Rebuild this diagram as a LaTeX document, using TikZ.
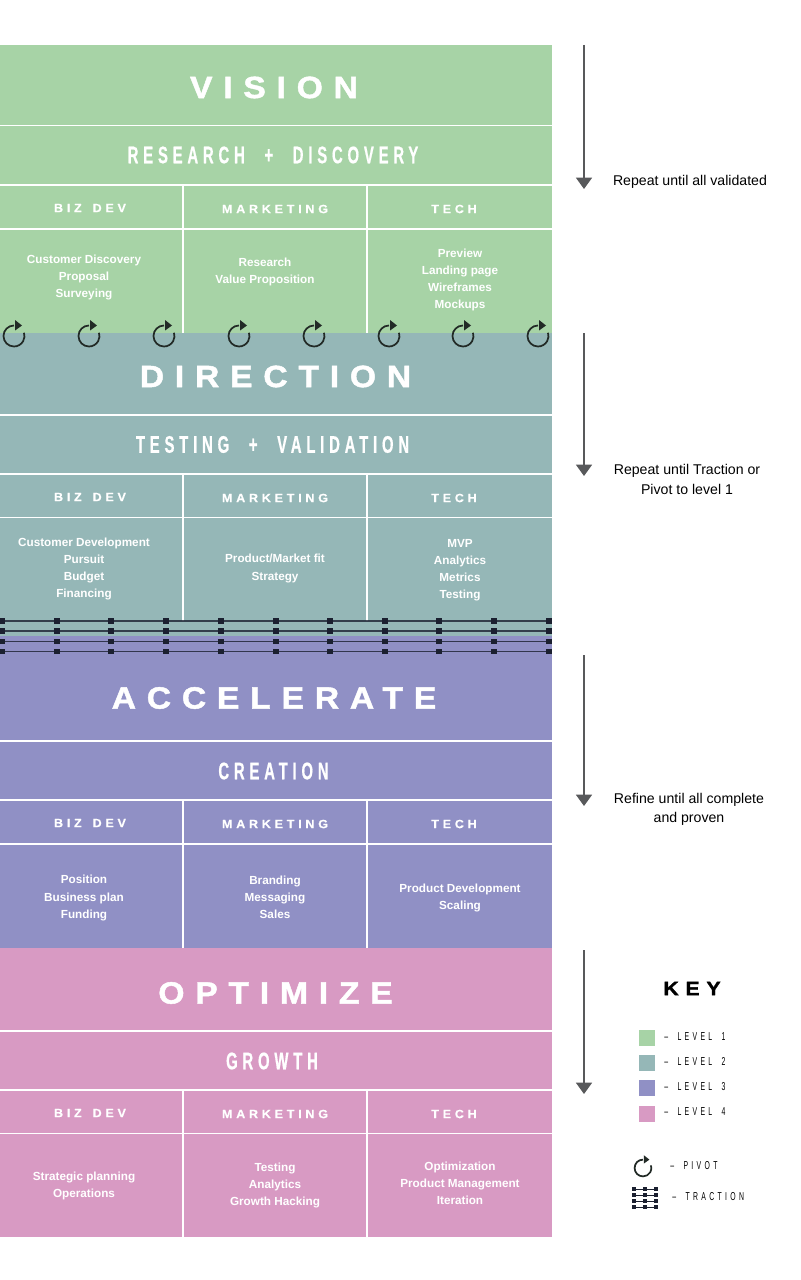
\documentclass[tikz,border=0pt]{standalone}
\usepackage{fontspec}
\setmainfont{Liberation Sans}
\newfontfamily\titlefont[LetterSpace=35,FakeStretch=1.1,FakeBold=1.5]{Liberation Sans Bold}
\newfontfamily\subfont[LetterSpace=20,FakeStretch=0.62,WordSpace=2.2,FakeBold=0.6]{Liberation Sans Bold}
\newfontfamily\teamfont[LetterSpace=31,FakeStretch=1.05,WordSpace=1.5,FakeBold=0.4]{Liberation Sans Bold}
\newfontfamily\keyfont[LetterSpace=29,FakeStretch=0.6,WordSpace=1.8]{Liberation Sans}
\definecolor{levelone}{RGB}{167,211,166}
\definecolor{leveltwo}{RGB}{149,183,183}
\definecolor{levelthree}{RGB}{144,144,197}
\definecolor{levelfour}{RGB}{216,154,195}
\definecolor{pivotink}{RGB}{34,42,38}
\definecolor{tractionink}{RGB}{27,32,48}
\definecolor{arrowink}{RGB}{88,89,91}
\usetikzlibrary{arrows.meta}
\tikzset{
  titletext/.style={text=white,inner sep=0pt,font=\titlefont\fontsize{23}{23}\selectfont},
  subtext/.style={text=white,inner sep=0pt,font=\subfont\fontsize{18}{18}\selectfont},
  teamtext/.style={text=white,inner sep=0pt,font=\teamfont\fontsize{9}{9}\selectfont},
  bodytext/.style={text=white,inner sep=0pt,align=center,font=\bfseries\fontsize{8.8}{12.8}\selectfont},
  notetext/.style={text=black,inner sep=0pt,align=center,font=\fontsize{10.6}{14.4}\selectfont},
  keytext/.style={text=black,inner sep=0pt,anchor=west,font=\keyfont\fontsize{8.6}{8.6}\selectfont},
  divider/.style={draw=white,line width=1pt},
  repeatline/.style={draw=arrowink,line width=1.1pt,-{Triangle[length=8.5pt,width=12pt]}},
  tractiondot/.style={fill=tractionink,inner sep=0pt,minimum size=3.8pt},
  tractionline/.style={draw=tractionink,draw opacity=0.8,line width=1.15pt},
  swatch/.style={inner sep=0pt,minimum size=12pt},
  pics/pivot/.style={code={
    \begin{scope}[scale=#1]
    \draw [color=pivotink,line width=1.3pt] (0,10.5) arc [start angle=90,end angle=378,radius=10.5];
    \fill [pivotink] (1,16) -- (8,10.5) -- (1,5.5) -- cycle;
    \end{scope}
  }},
}
\begin{document}
\begin{tikzpicture}[x=0.75pt,y=0.75pt,yscale=-1,xscale=1]
\useasboundingbox (0,0) rectangle (800,1280);

% Level bands
\fill [levelone] (0,45) rectangle (552,333);
\fill [leveltwo] (0,333) rectangle (552,636);
\fill [levelthree] (0,636) rectangle (552,948);
\fill [levelfour] (0,948) rectangle (552,1237);

% Dividers level 1
\draw [divider] (0,125.5) -- (552,125.5);
\draw [divider] (0,185) -- (552,185);
\draw [divider] (0,229) -- (552,229);
\draw [divider] (183,185) -- (183,333);
\draw [divider] (367,185) -- (367,333);
% Dividers level 2
\draw [divider] (0,415) -- (552,415);
\draw [divider] (0,474) -- (552,474);
\draw [divider] (0,517.5) -- (552,517.5);
\draw [divider] (183,474) -- (183,621);
\draw [divider] (367,474) -- (367,621);
% Dividers level 3
\draw [divider] (0,741) -- (552,741);
\draw [divider] (0,800) -- (552,800);
\draw [divider] (0,844) -- (552,844);
\draw [divider] (183,800) -- (183,948);
\draw [divider] (367,800) -- (367,948);
% Dividers level 4
\draw [divider] (0,1031) -- (552,1031);
\draw [divider] (0,1090) -- (552,1090);
\draw [divider] (0,1133.5) -- (552,1133.5);
\draw [divider] (183,1090) -- (183,1237);
\draw [divider] (367,1090) -- (367,1237);

% Text Node
\node (vision) at (274,87.5) [titletext] {VISION};
% Text Node
\node (research) at (273,155) [subtext] {RESEARCH + DISCOVERY};
% Text Node
\node (bizone) at (90,208) [teamtext] {BIZ DEV};
% Text Node
\node (mktone) at (275,209) [teamtext] {MARKETING};
% Text Node
\node (techone) at (454,209) [teamtext] {TECH};
% Text Node
\node (bodyonea) at (84,277.5) [bodytext] {Customer Discovery\\Proposal\\Surveying};
% Text Node
\node (bodyoneb) at (265,272) [bodytext] {Research\\Value Proposition};
% Text Node
\node (bodyonec) at (460,280) [bodytext] {Preview\\Landing page\\Wireframes\\Mockups};

% Text Node
\node (direction) at (275.5,376.5) [titletext] {DIRECTION};
% Text Node
\node (testing) at (272.5,444.5) [subtext] {TESTING + VALIDATION};
% Text Node
\node (biztwo) at (90,497) [teamtext] {BIZ DEV};
% Text Node
\node (mkttwo) at (275,498) [teamtext] {MARKETING};
% Text Node
\node (techtwo) at (454,498) [teamtext] {TECH};
% Text Node
\node (bodytwoa) at (84,569) [bodytext] {Customer Development\\Pursuit\\Budget\\Financing};
% Text Node
\node (bodytwob) at (275,568.5) [bodytext] {Product/Market fit\\Strategy};
% Text Node
\node (bodytwoc) at (460,570.5) [bodytext] {MVP\\Analytics\\Metrics\\Testing};

% Text Node
\node (accelerate) at (274,698) [titletext] {ACCELERATE};
% Text Node
\node (creation) at (273.5,771) [subtext] {CREATION};
% Text Node
\node (bizthree) at (90,823) [teamtext] {BIZ DEV};
% Text Node
\node (mktthree) at (275,824) [teamtext] {MARKETING};
% Text Node
\node (techthree) at (454,824) [teamtext] {TECH};
% Text Node
\node (bodythreea) at (84,898) [bodytext] {Position\\Business plan\\Funding};
% Text Node
\node (bodythreeb) at (275,897) [bodytext] {Branding\\Messaging\\Sales};
% Text Node
\node (bodythreec) at (460,898) [bodytext] {Product Development\\Scaling};

% Text Node
\node (optimize) at (275.5,993) [titletext] {OPTIMIZE};
% Text Node
\node (growth) at (272,1061) [subtext] {GROWTH};
% Text Node
\node (bizfour) at (90,1113) [teamtext] {BIZ DEV};
% Text Node
\node (mktfour) at (275,1114) [teamtext] {MARKETING};
% Text Node
\node (techfour) at (454,1114) [teamtext] {TECH};
% Text Node
\node (bodyfoura) at (84,1186) [bodytext] {Strategic planning\\Operations};
% Text Node
\node (bodyfourb) at (275,1185.5) [bodytext] {Testing\\Analytics\\Growth Hacking};
% Text Node
\node (bodyfourc) at (460,1183) [bodytext] {Optimization\\Product Management\\Iteration};

% Pivots
\foreach \x in {14,89,164,239,314,389,463,538} {
  \pic at (\x,336) {pivot=1};
}

% Traction
\foreach \y [count=\r] in {621,631,641.5,651.5} {
  \draw [tractionline] (0,\y) -- (552,\y);
  \foreach \x in {2,57,111,166,221,276,330,385,439,494,549} {
    \node (trac\r-\x) at (\x,\y) [tractiondot] {};
  }
}

% Repeat arrows
\coordinate (arrowastart) at (584,45);
\coordinate (arrowaend) at (584,189);
\coordinate (arrowbstart) at (584,333);
\coordinate (arrowbend) at (584,476);
\coordinate (arrowcstart) at (584,655);
\coordinate (arrowcend) at (584,806);
\coordinate (arrowdstart) at (584,950);
\coordinate (arrowdend) at (584,1094);
% Connection
\draw [repeatline] (arrowastart) -- (arrowaend);
% Connection
\draw [repeatline] (arrowbstart) -- (arrowbend);
% Connection
\draw [repeatline] (arrowcstart) -- (arrowcend);
% Connection
\draw [repeatline] (arrowdstart) -- (arrowdend);

% Text Node
\node (noteone) at (690,182) [notetext] {Repeat until all validated};
% Text Node
\node (notetwo) at (687,479.5) [notetext] {Repeat until Traction or\\Pivot to level 1};
% Text Node
\node (notethree) at (689,809.5) [notetext] {Refine until all complete\\and proven};

% Key
\node (keytitle) at (692,988.5) [text=black,inner sep=0pt,font=\titlefont\fontsize{14.5}{14.5}\selectfont] {KEY};
\node (swatchone) at (647,1038) [swatch,fill=levelone] {};
\node (swatchtwo) at (647,1063) [swatch,fill=leveltwo] {};
\node (swatchthree) at (647,1088) [swatch,fill=levelthree] {};
\node (swatchfour) at (647,1113.5) [swatch,fill=levelfour] {};
\node (keyone) at (664,1036.5) [keytext] {– LEVEL 1};
\node (keytwo) at (664,1061.5) [keytext] {– LEVEL 2};
\node (keythree) at (664,1087) [keytext] {– LEVEL 3};
\node (keyfour) at (664,1112) [keytext] {– LEVEL 4};
\pic at (643,1168) {pivot=0.8};
\node (keypivot) at (670,1166) [keytext] {– PIVOT};
\foreach \y [count=\r] in {1189,1195,1201,1207} {
  \draw [draw=tractionink,line width=0.75pt] (633,\y) -- (657,\y);
  \foreach \x in {634,645,656} {
    \node (keytrac\r-\x) at (\x,\y) [fill=tractionink,inner sep=0pt,minimum size=3pt] {};
  }
}
\node (keytraction) at (672,1197) [keytext] {– TRACTION};

\end{tikzpicture}
\end{document}
